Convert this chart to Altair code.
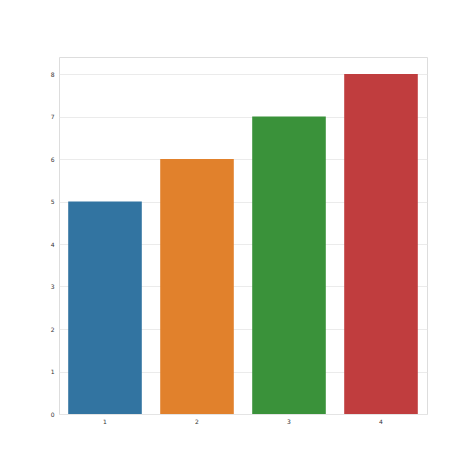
import altair as alt
import pandas as pd

categories = ["1", "2", "3", "4"]
values = [5, 6, 7, 8]
colors = ["#3274a1", "#e1812c", "#3a923a", "#c03d3e"]
y_ticks = [0, 1, 2, 3, 4, 5, 6, 7, 8]

df = pd.DataFrame({"cat": categories, "val": values})

chart = alt.Chart(df).mark_bar().encode(
    x=alt.X("cat:N", sort=categories, title=None,
            scale=alt.Scale(paddingInner=0.2, paddingOuter=0.1),
            axis=alt.Axis(labelAngle=0, labelFontSize=6, labelColor="#333333",
                          domain=False, ticks=False, labelPadding=4, grid=False,
                          labelFont="DejaVu Sans")),
    y=alt.Y("val:Q", title=None,
            scale=alt.Scale(domain=[0, 8.4], nice=False, zero=True),
            axis=alt.Axis(values=y_ticks, labelFontSize=6, labelColor="#333333",
                          domain=False, ticks=False, labelPadding=5, grid=True,
                          gridColor="#e6e6e6", gridWidth=0.8, labelFont="DejaVu Sans")),
    color=alt.Color("cat:N", scale=alt.Scale(domain=categories, range=colors), legend=None),
).properties(
    width=368, height=357,
    autosize=alt.AutoSizeParams(type="none"),
    padding={"left": 51, "top": 49, "right": 20, "bottom": 30},
).configure_view(
    stroke="#dddddd", strokeWidth=1
).configure(background="white")

chart.save("out.html", embed_options={"renderer": "svg", "actions": False})
